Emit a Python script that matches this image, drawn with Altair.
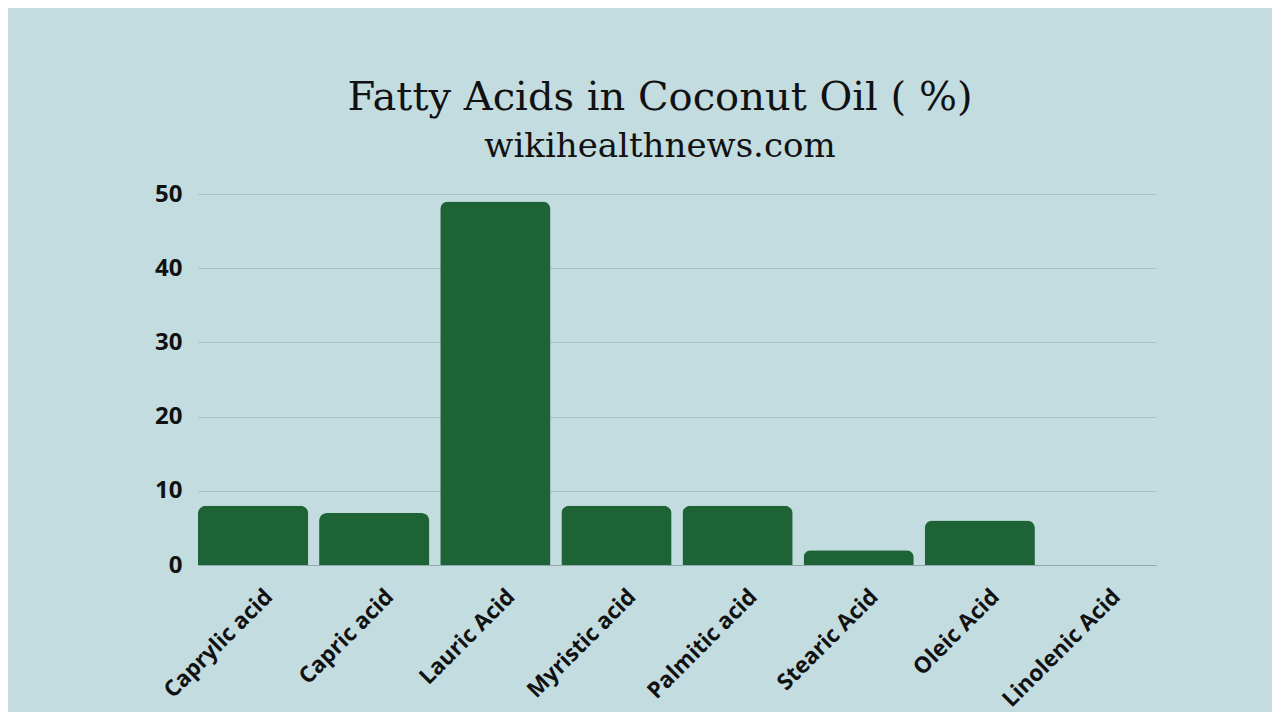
import altair as alt
import pandas as pd

categories = ["Caprylic acid", "Capric acid", "Lauric Acid", "Myristic acid",
              "Palmitic acid", "Stearic Acid", "Oleic Acid", "Linolenic Acid"]
values = [8, 7, 49, 8, 8, 2, 6, 0]

df = pd.DataFrame({"acid": categories, "pct": values})

BG = "#c2dce0"

chart = alt.Chart(df).mark_bar(
    color="#1e6336", cornerRadiusTopLeft=8, cornerRadiusTopRight=8
).encode(
    x=alt.X("acid:N", sort=categories, title=None,
            scale=alt.Scale(paddingInner=0.09, paddingOuter=0.0),
            axis=alt.Axis(labelAngle=-45, labelFont="Open Sans", labelFontWeight="bold",
                          labelFontSize=22.5, labelColor="#111111", ticks=False, grid=False,
                          labelPadding=20, labelOffset=8,
                          domainColor="#8fa8ac", domainWidth=1.2)),
    y=alt.Y("pct:Q", title=None,
            scale=alt.Scale(domain=[0, 50]),
            axis=alt.Axis(values=[0, 10, 20, 30, 40, 50], labelFont="Open Sans",
                          labelFontWeight="bold", labelFontSize=24, labelColor="#111111",
                          ticks=False, domain=False, labelPadding=16,
                          gridColor="#a6c2c6", gridWidth=1)),
).properties(
    width=958, height=371,
    background=BG,
    padding={"left": 190, "top": 186, "right": 116, "bottom": 147},
    autosize=alt.AutoSizeParams(type="none"),
    title=alt.Title(
        "Fatty Acids in Coconut Oil ( %)",
        subtitle="wikihealthnews.com",
        font="DejaVu Serif", fontSize=40, fontWeight="normal", color="#111111",
        subtitleFont="DejaVu Serif", subtitleFontSize=34, subtitleColor="#111111",
        subtitlePadding=12, anchor="middle", dx=-17, offset=18,
    ),
).configure_view(strokeWidth=0, strokeOpacity=0)

chart.save("out.html", embed_options={"renderer": "svg", "actions": False})
